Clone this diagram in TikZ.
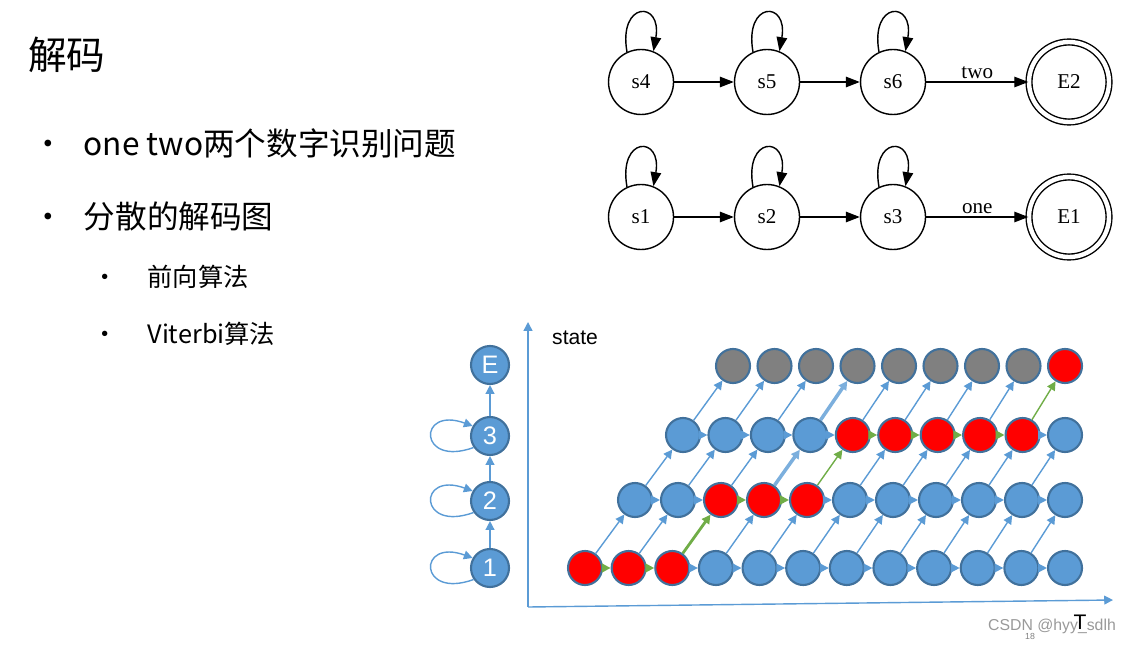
\documentclass[tikz,border=0pt]{standalone}
\usepackage{fontspec}
\setmainfont{Liberation Sans}
\newfontfamily\cjk{Noto Sans CJK SC}
\usetikzlibrary{arrows.meta, positioning, calc}
\definecolor{nodeblue}{HTML}{5B9BD5}
\definecolor{edgeblue}{HTML}{41719C}
\definecolor{pathgreen}{HTML}{70AD47}
\tikzset{
    fsm/.style={
        circle,
        draw=black,
        thick,
        minimum size=1.3cm,
        font=\fontspec{Liberation Serif}\large
    },
    final/.style={
        fsm,
        double,
        double distance=2.5pt,
        minimum size=1.6cm
    },
    farrow/.style={
        -{Triangle[length=8pt,width=6pt]},
        thick
    },
    state/.style={
        circle,
        draw=edgeblue,
        very thick,
        fill=nodeblue,
        text=white,
        minimum size=0.76cm,
        inner sep=0pt,
        font=\Large
    },
    tnode/.style={
        circle,
        draw=edgeblue,
        very thick,
        fill=nodeblue,
        minimum size=0.68cm,
        inner sep=0pt
    },
    tarrow/.style={
        -{Triangle[length=5pt,width=5pt]},
        draw=nodeblue,
        thick
    },
    bullet/.style={
        anchor=west,
        font=\cjk\fontsize{18}{22}\selectfont
    },
    % red nodes on the best path
    hl1-1/.style={fill=red}, hl1-2/.style={fill=red}, hl1-3/.style={fill=red},
    hl2-3/.style={fill=red}, hl2-4/.style={fill=red}, hl2-5/.style={fill=red},
    hl3-5/.style={fill=red}, hl3-6/.style={fill=red}, hl3-7/.style={fill=red},
    hl3-8/.style={fill=red}, hl3-9/.style={fill=red}, hl4-9/.style={fill=red},
    % green arrows on the best path
    gr1-1/.style={draw=pathgreen, very thick}, gr1-2/.style={draw=pathgreen, very thick},
    gr2-3/.style={draw=pathgreen, very thick}, gr2-4/.style={draw=pathgreen, very thick},
    gr3-5/.style={draw=pathgreen, very thick}, gr3-6/.style={draw=pathgreen, very thick},
    gr3-7/.style={draw=pathgreen, very thick}, gr3-8/.style={draw=pathgreen, very thick},
    dg1-3/.style={draw=pathgreen, line width=1.6pt},
    dg2-5/.style={draw=pathgreen},
    dg3-9/.style={draw=pathgreen},
    dg2-4/.style={draw=nodeblue!80, line width=2pt},
    dg3-4/.style={draw=nodeblue!80, line width=2pt}
}

\begin{document}
\begin{tikzpicture}[x=0.02cm, y=-0.02cm]

    \useasboundingbox (0,0) rectangle (1128,645);

    % Title and bullets
    \node[anchor=west, font=\cjk\fontsize{22}{26}\selectfont] (title) at (22,55) {解码};
    \node[bullet] (b1) at (26,143) {•\hspace{0.4cm}one two两个数字识别问题};
    \node[bullet] (b2) at (26,216) {•\hspace{0.4cm}分散的解码图};
    \node[bullet, font=\cjk\Large] (b3) at (86,277) {•\hspace{0.6cm}前向算法};
    \node[bullet, font=\cjk\Large] (b4) at (86,334) {•\hspace{0.6cm}Viterbi算法};

    % Word models
    \node[fsm] (s4) at (641,82) {s4};
    \node[fsm] (s5) at (767,82) {s5};
    \node[fsm] (s6) at (893,82) {s6};
    \node[final] (e2) at (1069,82) {E2};
    \node[fsm] (s1) at (641,217) {s1};
    \node[fsm] (s2) at (767,217) {s2};
    \node[fsm] (s3) at (893,217) {s3};
    \node[final] (e1) at (1069,217) {E1};

    \draw[farrow] (s4) -- (s5);
    \draw[farrow] (s5) -- (s6);
    \draw[farrow] (s6) -- node[above=-2pt, font=\fontspec{Liberation Serif}\large] {two} (e2);
    \draw[farrow] (s1) -- (s2);
    \draw[farrow] (s2) -- (s3);
    \draw[farrow] (s3) -- node[above=-2pt, font=\fontspec{Liberation Serif}\large] {one} (e1);
    \foreach \s in {s1,s2,s3,s4,s5,s6}
        \draw[farrow] (\s.115) to[out=100, in=80, looseness=5] (\s.68);

    % HMM states
    \node[state] (c1) at (490,568) {1};
    \node[state] (c2) at (490,501) {2};
    \node[state] (c3) at (490,436) {3};
    \node[state] (ce) at (490,365) {E};
    \draw[tarrow] (c1) -- (c2);
    \draw[tarrow] (c2) -- (c3);
    \draw[tarrow] (c3) -- (ce);
    \foreach \c in {c1,c2,c3}
        \draw[tarrow] (\c.215) to[out=200, in=160, looseness=7] (\c.150);

    % Axes
    \coordinate (origin) at (528,607);
    \coordinate (ytop) at (528,322);
    \coordinate (xend) at (1113,600);
    \draw[tarrow] (origin) -- (ytop);
    \draw[tarrow] (origin) -- (xend);
    \node[anchor=west, font=\large] (ylab) at (546,338) {state};
    \node[font=\large] (xlab) at (1080,622) {T};
    \node[text=gray, font=\tiny] (page) at (1030,636) {18};
    \node[text=gray!80, font=\small] (mark) at (1052,626) {CSDN @hyy\_sdlh};

    % Trellis
    \foreach \r/\n/\xs/\y in {1/12/585/568, 2/11/635/500, 3/10/683/435, 4/9/733/366}{
        \foreach \i in {1,...,\n}{
            \pgfmathsetmacro\xx{\xs+(\i-1)*(1065-\xs)/(\n-1)}
            \ifnum\r=4
                \node[tnode, fill=gray, hl\r-\i/.try] (t\r-\i) at (\xx,\y) {};
            \else
                \node[tnode, hl\r-\i/.try] (t\r-\i) at (\xx,\y) {};
            \fi
        }
    }
    \foreach \r/\m in {1/11, 2/10, 3/9}{
        \pgfmathtruncatemacro\q{\r+1}
        \foreach \i in {1,...,\m}{
            \pgfmathtruncatemacro\j{\i+1}
            \draw[tarrow, gr\r-\i/.try] (t\r-\i) -- (t\r-\j);
            \draw[tarrow, dg\r-\i/.try] (t\r-\i) -- (t\q-\i);
        }
    }

\end{tikzpicture}
\end{document}
